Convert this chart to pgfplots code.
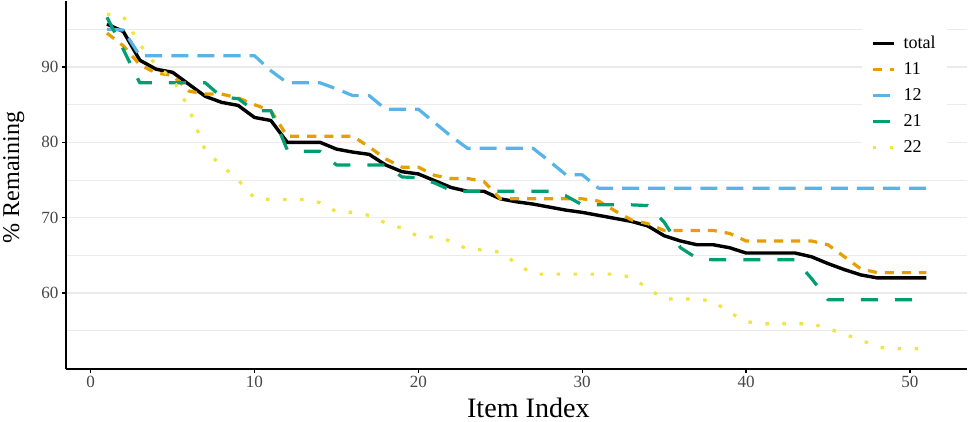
\documentclass[border=0pt]{standalone}
\usepackage{fontspec}
\setmainfont{Liberation Serif}
\usepackage{pgfplots}
\usepackage{pgfplotstable}
\pgfplotsset{compat=1.18}

\definecolor{c11}{HTML}{E69F00}
\definecolor{c12}{HTML}{56B4E9}
\definecolor{c21}{HTML}{009E73}
\definecolor{c22}{HTML}{F0E442}
\definecolor{gridgray}{HTML}{EBEBEB}

% % remaining after each item, per group
\pgfplotstableread{
idx total s11 s12 s21 s22
1  95.7 94.5 95.0 96.6 97.0
2  94.7 92.8 94.9 92.3 96.7
3  90.9 90.3 91.5 87.9 93.0
4  89.7 89.2 91.5 87.9 90.2
5  89.3 88.9 91.5 87.9 88.5
6  87.7 86.8 91.5 87.9 84.5
7  86.1 86.4 91.5 87.9 78.9
8  85.3 86.4 91.5 86.0 76.9
9  84.9 85.9 91.5 85.8 75.0
10 83.3 85.0 91.5 84.2 72.6
11 82.9 84.2 89.5 84.2 72.4
12 80.0 80.8 87.9 79.0 72.4
13 80.0 80.8 87.9 78.8 72.4
14 80.0 80.8 87.9 78.8 72.0
15 79.1 80.8 87.1 77.0 70.8
16 78.7 80.8 86.2 77.0 70.7
17 78.4 79.4 86.2 77.0 70.3
18 77.0 77.8 84.4 77.0 69.3
19 76.1 76.7 84.4 75.4 68.6
20 75.8 76.7 84.4 75.3 67.5
21 74.9 75.6 82.6 74.6 67.4
22 74.0 75.2 80.8 73.6 66.9
23 73.5 75.2 79.2 73.5 65.8
24 73.5 74.8 79.2 73.5 65.7
25 72.5 72.5 79.2 73.5 65.4
26 72.1 72.5 79.2 73.5 63.9
27 71.8 72.5 79.2 73.5 62.5
28 71.4 72.5 77.5 73.5 62.5
29 71.0 72.5 75.7 72.9 62.5
30 70.7 72.5 75.7 71.7 62.5
31 70.3 72.2 73.9 71.7 62.5
32 69.9 70.9 73.9 71.7 62.5
33 69.5 69.7 73.9 71.7 62.1
34 68.9 69.2 73.9 71.6 60.6
35 67.6 68.3 73.9 69.4 59.2
36 66.9 68.3 73.9 66.0 59.2
37 66.4 68.3 73.9 64.6 59.2
38 66.4 68.3 73.9 64.4 58.9
39 66.0 67.9 73.9 64.4 57.4
40 65.3 66.9 73.9 64.4 56.2
41 65.3 66.9 73.9 64.4 55.9
42 65.3 66.9 73.9 64.4 55.9
43 65.3 66.9 73.9 64.4 55.9
44 64.8 66.9 73.9 61.9 55.9
45 63.9 66.4 73.9 59.1 55.3
46 63.1 64.8 73.9 59.1 54.5
47 62.4 63.2 73.9 59.1 53.8
48 62.0 62.7 73.9 59.1 52.8
49 62.0 62.7 73.9 59.1 52.6
50 62.0 62.7 73.9 59.1 52.6
51 62.0 62.7 73.9 59.1 52.6
}\remaining

\begin{document}
\begin{tikzpicture}
\begin{axis}[
    width=898pt, height=367pt, scale only axis,
    xmin=-1.5, xmax=53.5, ymin=49.9, ymax=98.8,
    axis lines*=left,
    axis line style={-, line width=1.4pt, black},
    tick align=outside, major tick length=4pt, minor tick length=0pt,
    tick style={line width=1.2pt, black},
    xtick={0,10,...,50},
    ytick={60,70,80,90}, minor ytick={55,65,75,85,95},
    ymajorgrids, yminorgrids,
    major grid style={line width=1.4pt, gridgray},
    minor grid style={line width=0.8pt, gridgray},
    /pgf/number format/assume math mode=true,
    ticklabel style={font=\fontsize{17}{17}\selectfont, text=black!72},
    xlabel={Item Index}, ylabel={\% Remaining},
    every axis x label/.style={at={(rel axis cs:0.513,0)}, yshift=-48pt,
        anchor=base, inner sep=0pt, font=\fontsize{28}{28}\selectfont},
    every axis y label/.style={at={(rel axis cs:0,0.52)}, xshift=-63pt,
        rotate=90, anchor=north, inner sep=0pt, font=\fontsize{24}{24}\selectfont},
    no markers,
    every axis plot/.append style={line join=round},
    legend cell align=left,
    legend style={at={(rel axis cs:0.883,0.926)}, anchor=north west,
        draw=none, fill=white, inner xsep=9pt, inner ysep=6pt, row sep=8.5pt,
        font=\fontsize{18}{18}\selectfont},
    legend image code/.code={\draw[#1] (0pt,0pt) -- (21pt,0pt); \path (27pt,0pt);},
]
\addplot[black, line width=3.4pt] table[x=idx, y=total] {\remaining};
\addplot[c11, line width=3.2pt, dash pattern=on 9pt off 8pt] table[x=idx, y=s11] {\remaining};
\addplot[c12, line width=3.2pt, dash pattern=on 17pt off 9pt] table[x=idx, y=s12] {\remaining};
\addplot[c21, line width=3.2pt, dash pattern=on 17pt off 17pt] table[x=idx, y=s21] {\remaining};
\addplot[c22, line width=3.2pt, dash pattern=on 3.5pt off 13.5pt] table[x=idx, y=s22] {\remaining};
\legend{total,11,12,21,22}
\end{axis}
\path (current bounding box.south west) ++(-3pt,-4pt);
\end{tikzpicture}
\end{document}
